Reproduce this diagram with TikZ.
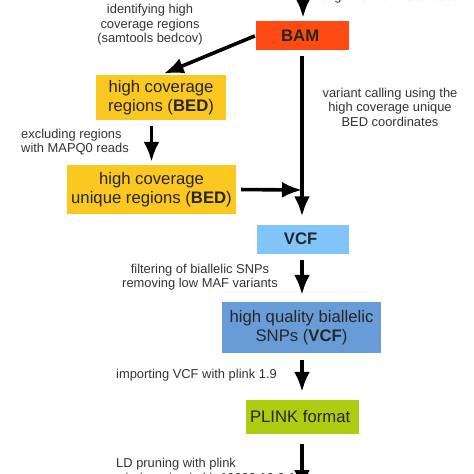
\documentclass[tikz,border=0pt]{standalone}
\usepackage{fontspec}
\setmainfont{Liberation Sans}
\usetikzlibrary{arrows.meta}

\definecolor{bamred}{RGB}{255,74,20}
\definecolor{bedyellow}{RGB}{250,200,32}
\definecolor{vcfblue}{RGB}{128,196,250}
\definecolor{snpblue}{RGB}{104,156,214}
\definecolor{plinkgreen}{RGB}{176,204,16}

\begin{document}
\begin{tikzpicture}[x=1pt,y=-1pt,
                    every path/.style={>={Latex[length=20pt,width=16pt]}},
                    box/.style={rectangle,inner sep=0pt,align=center,text=black!85,
                                font=\fontsize{16.7}{19}\selectfont},
                    lbl/.style={inner sep=0pt,text=black!80,font=\fontsize{12.9}{14.5}\selectfont},
                    flow/.style={->,line width=3.6pt}]
  \useasboundingbox (0,0) rectangle (474,474);
  \clip (0,0) rectangle (474,474);

  % boxes
  \node[box,fill=bamred,minimum width=93pt,minimum height=29pt]      (bam)   at (302.5,35.5) { \textbf{BAM} };
  \node[box,fill=bedyellow,minimum width=130pt,minimum height=45pt]  (reg)   at (161,97.5)   { high coverage\\regions (\textbf{BED}) };
  \node[box,fill=bedyellow,minimum width=169pt,minimum height=49pt]  (uniq)  at (151.5,189.5){ high coverage\\unique regions (\textbf{BED}) };
  \node[box,fill=vcfblue,minimum width=92pt,minimum height=29pt]     (vcf)   at (303,239)    { \textbf{VCF} };
  \node[box,fill=snpblue,minimum width=159pt,minimum height=51pt]    (snps)  at (301.5,327.5){ high quality biallelic\\SNPs (\textbf{VCF}) };
  \node[box,fill=plinkgreen,minimum width=113pt,minimum height=34pt] (plink) at (302.5,417)  { PLINK format };

  % labels
  \node[lbl,align=center] (laln)  at (392,-3)  { alignment of NGS reads };
  \node[lbl,align=center] (lcov)  at (150,25)  { identifying high\\coverage regions\\(samtools bedcov) };
  \node[lbl,align=center] (lcall) at (390,107) { variant calling using the\\high coverage unique\\BED coordinates };
  \node[lbl,align=left,anchor=west]  (lmapq) at (21,142)  { excluding regions\\with MAPQ0 reads };
  \node[lbl,align=center] (lfilt) at (200,277) { filtering of biallelic SNPs\\removing low MAF variants };
  \node[lbl,align=left,anchor=west]  (limp)  at (116,375) { importing VCF with plink 1.9 };
  \node[lbl,align=left,anchor=north west] (lld) at (116,458) { LD pruning with plink\\window size in kb \textbf{10000 10 0.1} };

  % connectors
  \coordinate (top)  at (303,-10);
  \coordinate (join) at (302,190);
  \coordinate (bot)  at (302,490);
  \draw[flow,shorten >=3pt]                  (top) -- (bam.north -| top);
  \draw[flow,shorten <=1pt,shorten >=3pt]    (bam.west) -- (reg.north);
  \draw[flow,shorten <=6pt,shorten >=8pt]    (bam.south -| join) -- (vcf.north -| join);
  \draw[flow,shorten <=6pt,shorten >=3pt]    (uniq.north |- reg.south) -- (uniq.north);
  \draw[flow,shorten <=5pt]                  (uniq.east) -- (join);
  \draw[flow,shorten <=6pt,shorten >=7pt]    (vcf.south -| join) -- (snps.north -| join);
  \draw[flow,shorten <=7pt,shorten >=8pt]    (snps.south -| join) -- (plink.north -| join);
  \draw[flow,shorten <=10pt]                 (plink.south -| join) -- (bot);
\end{tikzpicture}
\end{document}
